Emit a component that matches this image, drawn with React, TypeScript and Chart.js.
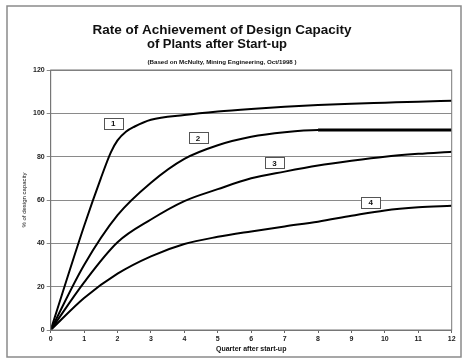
import React, { useEffect, useRef } from "react";
import { Chart, registerables } from "chart.js";

Chart.register(...registerables);

const TITLE_LINES = ["Rate of Achievement of Design Capacity", "of Plants after Start-up"];
const SUBTITLE = "(Based on McNulty, Mining Engineering, Oct/1998 )";
const X_TITLE = "Quarter after start-up";
const Y_TITLE = "% of design capacity";

const xTicksMin = 0;
const xTicksMax = 12;
const yTicksMin = 0;
const yTicksMax = 120;
const yTickStep = 20;

const curve1X = [0, 1, 1.5, 1.8, 2, 2.25, 2.5, 3, 4, 5, 6, 7, 8, 9, 10, 11, 12];
const curve1Y = [0, 48, 70, 82, 87.5, 91.5, 93.8, 97, 99.2, 100.8, 102, 103, 103.8, 104.4, 104.9, 105.4, 105.8];

const curve2X = [0, 1, 2, 3, 4, 5, 6, 7, 8, 9, 10, 11, 12];
const curve2Y = [0, 30, 53, 68, 79, 85.3, 89.2, 91.3, 92.3, 92.3, 92.3, 92.3, 92.3];

const curve3X = [0, 1, 2, 3, 4, 5, 6, 7, 8, 9, 10, 11, 12];
const curve3Y = [0, 22, 40.5, 51, 59.5, 65, 70, 73.1, 75.9, 78.1, 80, 81.3, 82.3];

const curve4X = [0, 1, 2, 3, 4, 5, 6, 7, 8, 9, 10, 11, 12];
const curve4Y = [0, 14.8, 26, 34, 39.7, 43, 45.5, 47.8, 50, 52.7, 55.2, 56.6, 57.3];

const labelNames = ["1", "2", "3", "4"];
const labelX = [1.87, 4.41, 6.7, 9.58];
const labelY = [95.4, 88.7, 77.1, 59];

const FONT = "'Liberation Sans', Arial, sans-serif";

const toPoints = (xs: number[], ys: number[]) => xs.map((x, i) => ({ x, y: ys[i] }));

const decorPlugin = {
  id: "decor",
  afterDraw(chart: any) {
    const { ctx, chartArea, scales } = chart;
    ctx.save();
    // outer frame
    ctx.strokeStyle = "#8a8a8a";
    ctx.lineWidth = 1.5;
    ctx.strokeRect(7, 6, 454, 351);
    // plot border
    ctx.strokeStyle = "#777";
    ctx.lineWidth = 1;
    ctx.strokeRect(chartArea.left, chartArea.top, chartArea.right - chartArea.left, chartArea.bottom - chartArea.top);
    // titles
    ctx.fillStyle = "#111";
    ctx.textAlign = "center";
    ctx.textBaseline = "middle";
    ctx.font = `bold 13.5px ${FONT}`;
    ctx.fillText(TITLE_LINES[0], 222, 30);
    ctx.font = `bold 13px ${FONT}`;
    ctx.fillText(TITLE_LINES[1], 217, 44);
    ctx.font = `bold 6.2px ${FONT}`;
    ctx.fillText(SUBTITLE, 222, 62);
    // curve labels
    const xs = scales.x;
    const ys = scales.y;
    labelNames.forEach((name, i) => {
      const cx = xs.getPixelForValue(labelX[i]);
      const cy = ys.getPixelForValue(labelY[i]);
      const w = 19;
      const h = 11;
      ctx.fillStyle = "#fff";
      ctx.fillRect(cx - w / 2, cy - h / 2, w, h);
      ctx.strokeStyle = "#555";
      ctx.lineWidth = 1;
      ctx.strokeRect(Math.round(cx - w / 2) + 0.5, Math.round(cy - h / 2) + 0.5, w, h);
      ctx.fillStyle = "#111";
      ctx.font = `bold 8px ${FONT}`;
      ctx.fillText(name, cx, cy + 0.5);
    });
    ctx.restore();
  },
};

export default function App() {
  const canvasRef = useRef<HTMLCanvasElement | null>(null);

  useEffect(() => {
    document.body.style.margin = "0";
    document.body.style.overflow = "hidden";
    const canvas = canvasRef.current;
    if (!canvas) return;
    const lineDs = (label: string, xs: number[], ys: number[], extra: any = {}) => ({
      label,
      data: toPoints(xs, ys),
      borderColor: "#000",
      borderWidth: 2,
      pointRadius: 0,
      fill: false,
      cubicInterpolationMode: "monotone" as const,
      ...extra,
    });
    const chart = new Chart(canvas, {
      type: "line",
      data: {
        datasets: [
          lineDs("1", curve1X, curve1Y),
          lineDs("2", curve2X, curve2Y, {
            segment: {
              borderWidth: (c: any) => (c.p0.parsed.x >= 7.99 ? 3.2 : 2),
            },
          }),
          lineDs("3", curve3X, curve3Y),
          lineDs("4", curve4X, curve4Y),
        ],
      },
      options: {
        animation: false,
        responsive: false,
        maintainAspectRatio: false,
        layout: { padding: { left: 0, top: 70, right: 22.3, bottom: 0 } },
        plugins: {
          legend: { display: false },
          tooltip: { enabled: false },
          title: { display: false },
        },
        scales: {
          x: {
            type: "linear",
            min: xTicksMin,
            max: xTicksMax,
            ticks: {
              stepSize: 1,
              padding: 2,
              color: "#222",
              font: { family: FONT, size: 7, weight: "bold" },
              maxRotation: 0,
            },
            grid: {
              drawOnChartArea: false,
              drawTicks: true,
              tickLength: 3,
              color: "#666",
            },
            border: { display: true, color: "#777" },
            title: {
              display: true,
              text: X_TITLE,
              color: "#111",
              font: { family: FONT, size: 7, weight: "bold" },
              padding: { top: 0, bottom: 9.8 },
            },
            afterFit: (s: any) => {
              s.height = 33;
            },
          },
          y: {
            type: "linear",
            min: yTicksMin,
            max: yTicksMax,
            ticks: {
              stepSize: yTickStep,
              padding: 2,
              color: "#222",
              font: { family: FONT, size: 7, weight: "bold" },
            },
            grid: {
              color: "#8a8a8a",
              lineWidth: 1,
              drawTicks: true,
              tickLength: 4,
            },
            border: { display: true, color: "#777" },
            title: {
              display: true,
              text: Y_TITLE,
              color: "#111",
              font: { family: FONT, size: 6 },
              padding: { top: 21, bottom: 0 },
            },
            afterFit: (s: any) => {
              s.width = 50.7;
            },
          },
        },
      },
      plugins: [decorPlugin],
    });
    return () => chart.destroy();
  }, []);

  return (
    <div style={{ width: 474, height: 363, position: "relative", background: "#fff" }}>
      <canvas ref={canvasRef} width={474} height={363} />
    </div>
  );
}
